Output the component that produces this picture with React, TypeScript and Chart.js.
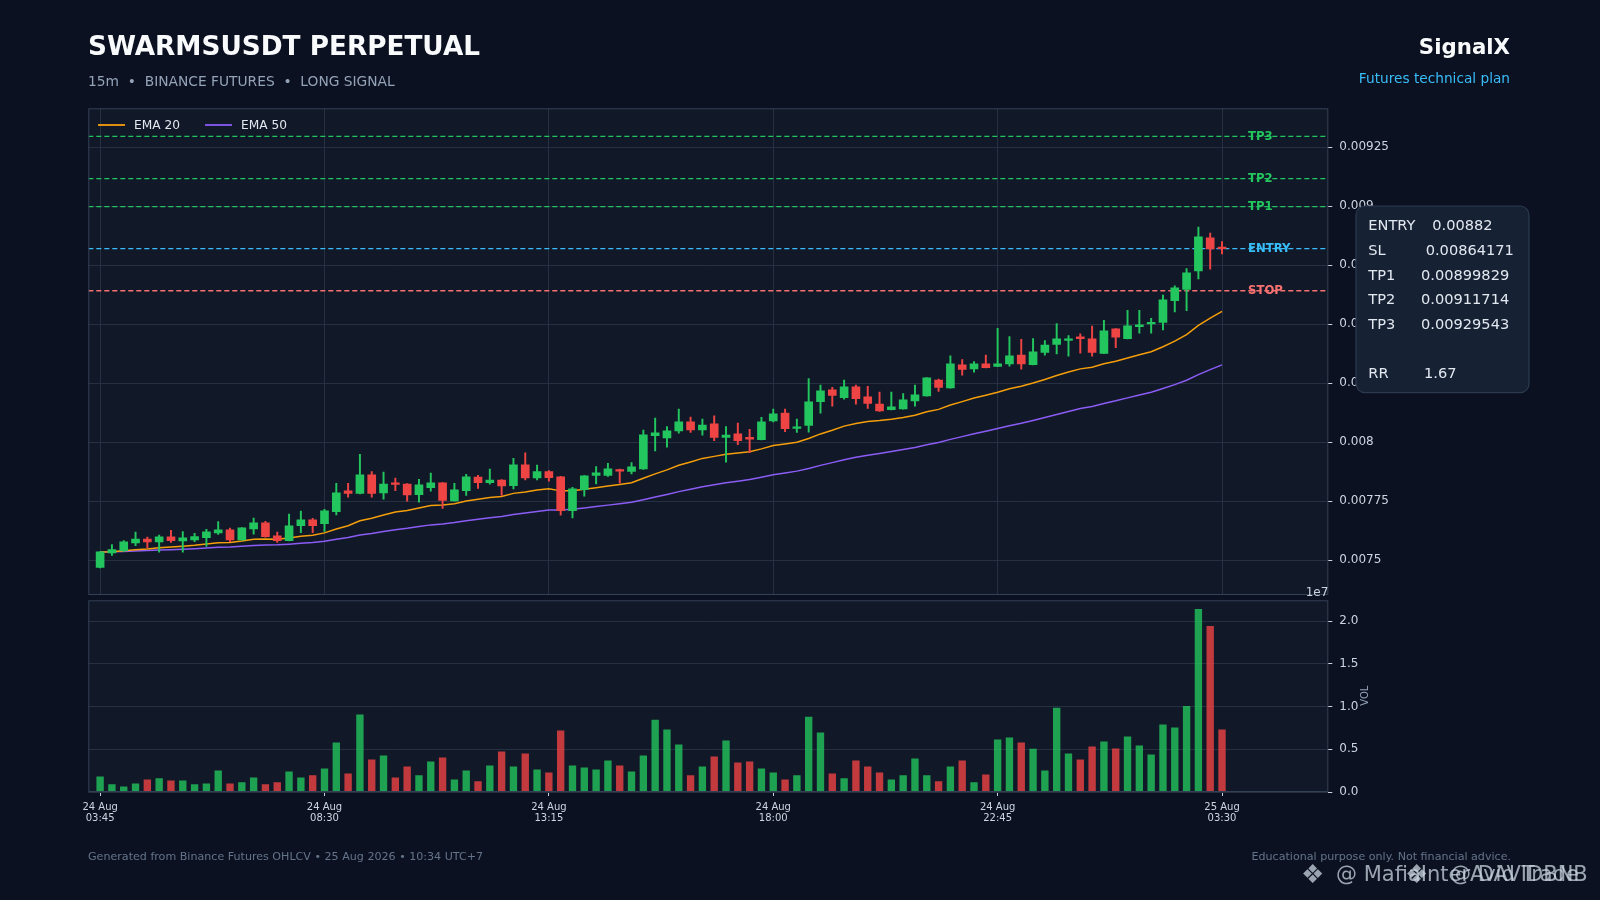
import React, { useEffect, useRef } from 'react';
import { Chart, registerables } from 'chart.js';

Chart.register(...registerables);

// ---------------- DATA ----------------
const OPEN = [
  0.007469, 0.007531, 0.007540, 0.007573, 0.007590, 0.007578, 0.007599, 0.007582, 0.007586, 0.007595,
  0.007616, 0.007629, 0.007586, 0.007633, 0.007658, 0.007603, 0.007583, 0.007646, 0.007671, 0.007655,
  0.007706, 0.007794, 0.007783, 0.007862, 0.007785, 0.007828, 0.007823, 0.007778, 0.007807, 0.007828,
  0.007751, 0.007795, 0.007852, 0.007829, 0.007840, 0.007816, 0.007904, 0.007849, 0.007876, 0.007853,
  0.007710, 0.007799, 0.007859, 0.007859, 0.007884, 0.007876, 0.007887, 0.008028, 0.008018, 0.008048,
  0.008086, 0.008052, 0.008078, 0.008020, 0.008035, 0.008021, 0.008011, 0.008090, 0.008123, 0.008058,
  0.008071, 0.008172, 0.008222, 0.008189, 0.008235, 0.008192, 0.008162, 0.008138, 0.008141, 0.008175,
  0.008196, 0.008263, 0.008230, 0.008328, 0.008311, 0.008332, 0.008321, 0.008332, 0.008369, 0.008328,
  0.008380, 0.008414, 0.008431, 0.008446, 0.008438, 0.008376, 0.008480, 0.008439, 0.008490, 0.008501,
  0.008507, 0.008600, 0.008647, 0.008726, 0.008866, 0.008823,
];
const HIGH = [
  0.007537, 0.007566, 0.007583, 0.007619, 0.007598, 0.007606, 0.007627, 0.007621, 0.007614, 0.007631,
  0.007664, 0.007636, 0.007638, 0.007678, 0.007665, 0.007619, 0.007695, 0.007708, 0.007677, 0.007716,
  0.007826, 0.007826, 0.007949, 0.007876, 0.007873, 0.007848, 0.007825, 0.007843, 0.007869, 0.007829,
  0.007826, 0.007864, 0.007860, 0.007886, 0.007842, 0.007932, 0.007955, 0.007903, 0.007880, 0.007855,
  0.007809, 0.007859, 0.007897, 0.007910, 0.007886, 0.007914, 0.008051, 0.008102, 0.008066, 0.008140,
  0.008106, 0.008098, 0.008112, 0.008066, 0.008081, 0.008055, 0.008105, 0.008140, 0.008140, 0.008098,
  0.008270, 0.008242, 0.008232, 0.008263, 0.008242, 0.008237, 0.008212, 0.008212, 0.008206, 0.008242,
  0.008274, 0.008267, 0.008366, 0.008350, 0.008342, 0.008369, 0.008482, 0.008448, 0.008436, 0.008439,
  0.008431, 0.008503, 0.008452, 0.008459, 0.008492, 0.008516, 0.008481, 0.008559, 0.008559, 0.008525,
  0.008623, 0.008662, 0.008736, 0.008911, 0.008886, 0.008850,
];
const LOW = [
  0.007467, 0.007520, 0.007537, 0.007562, 0.007552, 0.007534, 0.007575, 0.007534, 0.007579, 0.007558,
  0.007609, 0.007579, 0.007585, 0.007610, 0.007598, 0.007575, 0.007582, 0.007617, 0.007617, 0.007622,
  0.007692, 0.007767, 0.007781, 0.007767, 0.007759, 0.007795, 0.007750, 0.007746, 0.007792, 0.007719,
  0.007750, 0.007775, 0.007804, 0.007822, 0.007775, 0.007802, 0.007840, 0.007840, 0.007835, 0.007691,
  0.007679, 0.007771, 0.007823, 0.007855, 0.007826, 0.007866, 0.007885, 0.007963, 0.007979, 0.008038,
  0.008041, 0.008030, 0.008006, 0.007915, 0.007990, 0.007956, 0.008010, 0.008086, 0.008045, 0.008041,
  0.008042, 0.008123, 0.008153, 0.008182, 0.008161, 0.008143, 0.008130, 0.008137, 0.008140, 0.008153,
  0.008195, 0.008215, 0.008229, 0.008284, 0.008297, 0.008315, 0.008320, 0.008322, 0.008309, 0.008327,
  0.008369, 0.008374, 0.008364, 0.008377, 0.008364, 0.008375, 0.008400, 0.008438, 0.008462, 0.008462,
  0.008476, 0.008552, 0.008557, 0.008692, 0.008733, 0.008798,
];
const CLOSE = [
  0.007535, 0.007545, 0.007578, 0.007590, 0.007578, 0.007599, 0.007583, 0.007595, 0.007600, 0.007620,
  0.007629, 0.007586, 0.007637, 0.007658, 0.007600, 0.007583, 0.007646, 0.007671, 0.007646, 0.007709,
  0.007785, 0.007783, 0.007862, 0.007783, 0.007823, 0.007821, 0.007777, 0.007819, 0.007828, 0.007753,
  0.007798, 0.007853, 0.007829, 0.007840, 0.007815, 0.007904, 0.007849, 0.007876, 0.007850, 0.007710,
  0.007802, 0.007857, 0.007870, 0.007887, 0.007877, 0.007896, 0.008031, 0.008040, 0.008048, 0.008086,
  0.008052, 0.008073, 0.008020, 0.008030, 0.008007, 0.008013, 0.008086, 0.008120, 0.008057, 0.008065,
  0.008171, 0.008218, 0.008198, 0.008235, 0.008184, 0.008164, 0.008133, 0.008150, 0.008179, 0.008201,
  0.008273, 0.008232, 0.008332, 0.008308, 0.008332, 0.008316, 0.008332, 0.008366, 0.008332, 0.008383,
  0.008412, 0.008438, 0.008438, 0.008439, 0.008380, 0.008472, 0.008445, 0.008493, 0.008497, 0.008506,
  0.008603, 0.008654, 0.008718, 0.008870, 0.008819, 0.008820,
];
const VOLUME = [
  1790000, 860000, 620000, 970000, 1440000, 1560000, 1320000, 1320000, 860000, 970000,
  2490000, 970000, 1090000, 1670000, 860000, 1090000, 2370000, 1670000, 1910000, 2720000,
  5760000, 2140000, 9030000, 3770000, 4240000, 1670000, 2960000, 1910000, 3540000, 4010000,
  1440000, 2490000, 1210000, 3070000, 4710000, 2960000, 4470000, 2610000, 2260000, 7160000,
  3070000, 2840000, 2610000, 3660000, 3070000, 2370000, 4240000, 8440000, 7280000, 5530000,
  1910000, 2960000, 4120000, 5990000, 3420000, 3540000, 2720000, 2260000, 1440000, 1910000,
  8790000, 6930000, 2140000, 1560000, 3660000, 2960000, 2260000, 1440000, 1910000, 3890000,
  1910000, 1210000, 2960000, 3660000, 1090000, 2020000, 6110000, 6340000, 5760000, 5020000,
  2490000, 9840000, 4470000, 3770000, 5290000, 5880000, 5060000, 6460000, 5410000, 4360000,
  7860000, 7510000, 10040000, 21400000, 19420000, 7280000,
];
const EMA20 = [
  0.0075350, 0.0075360, 0.0075400, 0.0075447, 0.0075479, 0.0075528, 0.0075556, 0.0075594, 0.0075633, 0.0075687,
  0.0075744, 0.0075755, 0.0075814, 0.0075887, 0.0075898, 0.0075891, 0.0075945, 0.0076018, 0.0076060, 0.0076158,
  0.0076319, 0.0076463, 0.0076669, 0.0076779, 0.0076918, 0.0077041, 0.0077110, 0.0077213, 0.0077315, 0.0077335,
  0.0077396, 0.0077504, 0.0077579, 0.0077657, 0.0077704, 0.0077832, 0.0077894, 0.0077977, 0.0078027, 0.0077938,
  0.0077946, 0.0078006, 0.0078072, 0.0078148, 0.0078207, 0.0078279, 0.0078472, 0.0078656, 0.0078829, 0.0079023,
  0.0079165, 0.0079314, 0.0079399, 0.0079485, 0.0079540, 0.0079597, 0.0079717, 0.0079858, 0.0079926, 0.0079995,
  0.0080158, 0.0080351, 0.0080506, 0.0080682, 0.0080792, 0.0080873, 0.0080916, 0.0080972, 0.0081050, 0.0081141,
  0.0081293, 0.0081390, 0.0081574, 0.0081718, 0.0081870, 0.0081993, 0.0082119, 0.0082266, 0.0082367, 0.0082506,
  0.0082660, 0.0082823, 0.0082972, 0.0083107, 0.0083173, 0.0083320, 0.0083428, 0.0083571, 0.0083704, 0.0083833,
  0.0084042, 0.0084280, 0.0084557, 0.0084951, 0.0085260, 0.0085540,
];
const EMA50 = [
  0.0075350, 0.0075354, 0.0075371, 0.0075391, 0.0075407, 0.0075430, 0.0075445, 0.0075465, 0.0075486, 0.0075514,
  0.0075544, 0.0075557, 0.0075589, 0.0075628, 0.0075642, 0.0075650, 0.0075681, 0.0075722, 0.0075751, 0.0075803,
  0.0075884, 0.0075960, 0.0076064, 0.0076133, 0.0076216, 0.0076294, 0.0076352, 0.0076424, 0.0076497, 0.0076537,
  0.0076594, 0.0076670, 0.0076733, 0.0076799, 0.0076852, 0.0076937, 0.0076998, 0.0077067, 0.0077124, 0.0077123,
  0.0077158, 0.0077213, 0.0077272, 0.0077334, 0.0077391, 0.0077452, 0.0077564, 0.0077675, 0.0077785, 0.0077906,
  0.0078008, 0.0078115, 0.0078197, 0.0078279, 0.0078350, 0.0078419, 0.0078515, 0.0078620, 0.0078697, 0.0078774,
  0.0078889, 0.0079018, 0.0079134, 0.0079260, 0.0079361, 0.0079451, 0.0079524, 0.0079602, 0.0079688, 0.0079779,
  0.0079895, 0.0079990, 0.0080120, 0.0080236, 0.0080357, 0.0080467, 0.0080579, 0.0080700, 0.0080803, 0.0080921,
  0.0081047, 0.0081177, 0.0081303, 0.0081424, 0.0081517, 0.0081643, 0.0081753, 0.0081878, 0.0081999, 0.0082119,
  0.0082272, 0.0082440, 0.0082626, 0.0082864, 0.0083073, 0.0083274,
];

const X_TICK_INDEX = [0, 19, 38, 57, 76, 95];
const X_TICK_LABELS = [
  ['24 Aug', '03:45'],
  ['24 Aug', '08:30'],
  ['24 Aug', '13:15'],
  ['24 Aug', '18:00'],
  ['24 Aug', '22:45'],
  ['25 Aug', '03:30'],
];
const PRICE_TICKS = [0.0075, 0.00775, 0.008, 0.00825, 0.0085, 0.00875, 0.009, 0.00925];
const PRICE_TICK_LABELS = ['0.0075', '0.00775', '0.008', '0.00825', '0.0085', '0.00875', '0.009', '0.00925'];
const VOL_TICKS = [0, 5000000, 10000000, 15000000, 20000000];
const VOL_TICK_LABELS = ['0.0', '0.5', '1.0', '1.5', '2.0'];

const LEVEL_NAMES = ['TP3', 'TP2', 'TP1', 'ENTRY', 'STOP'];
const LEVEL_VALUES = [0.00929543, 0.00911714, 0.00899829, 0.00882, 0.00864171];

const INFO_LABELS = ['ENTRY', 'SL', 'TP1', 'TP2', 'TP3', 'RR'];
const INFO_VALUES = ['0.00882', '0.00864171', '0.00899829', '0.00911714', '0.00929543', '1.67'];

const TITLE = 'SWARMSUSDT PERPETUAL';
const SUBTITLE = '15m  \u2022  BINANCE FUTURES  \u2022  LONG SIGNAL';
const BRAND = 'SignalX';
const BRAND_SUB = 'Futures technical plan';
const FOOT_LEFT = 'Generated from Binance Futures OHLCV \u2022 25 Aug 2026 \u2022 10:34 UTC+7';
const FOOT_RIGHT = 'Educational purpose only. Not financial advice.';
const WATERMARK_A = '@ MafiaInterAvid Trade';
const WATERMARK_B = '@ DAVIDBNB';

const X_MIN = -1;
const X_MAX = 104;
const PRICE_MIN = 0.0073526;
const PRICE_MAX = 0.0094147;
const VOL_MAX = 22460000;

// ---------------- STYLE ----------------
const FONT = '"DejaVu Sans", "Noto Sans", sans-serif';
const BG = '#0b1120';
const PLOT_BG = '#111827';
const GRID = '#263042';
const SPINE = '#334155';
const TICK_TEXT = '#cbd5e1';
const GREEN = '#22c55e';
const RED = '#ef4444';
const GREEN_VOL = 'rgba(34,197,94,0.8)';
const RED_VOL = 'rgba(239,68,68,0.8)';
const EMA20_COLOR = '#f59e0b';
const EMA50_COLOR = '#8b5cf6';
const LEVEL_COLORS = ['#22c55e', '#22c55e', '#22c55e', '#38bdf8', '#f87171'];

Chart.defaults.font.family = FONT;

const IDX = CLOSE.map((_, i) => i);
const IS_UP = IDX.map((i) => CLOSE[i] >= OPEN[i]);

function roundRectPath(ctx: CanvasRenderingContext2D, x: number, y: number, w: number, h: number, r: number) {
  ctx.beginPath();
  ctx.moveTo(x + r, y);
  ctx.lineTo(x + w - r, y);
  ctx.arcTo(x + w, y, x + w, y + r, r);
  ctx.lineTo(x + w, y + h - r);
  ctx.arcTo(x + w, y + h, x + w - r, y + h, r);
  ctx.lineTo(x + r, y + h);
  ctx.arcTo(x, y + h, x, y + h - r, r);
  ctx.lineTo(x, y + r);
  ctx.arcTo(x, y, x + r, y, r);
  ctx.closePath();
}

const pricePlugin = {
  id: 'pricePlugin',
  beforeDraw(chart: any) {
    const { ctx, chartArea: a } = chart;
    ctx.save();
    ctx.fillStyle = PLOT_BG;
    ctx.fillRect(a.left, a.top, a.right - a.left, a.bottom - a.top);
    ctx.restore();
  },
  beforeDatasetsDraw(chart: any) {
    const { ctx } = chart;
    const xs = chart.scales.x;
    const ys = chart.scales.y;
    ctx.save();
    ctx.font = `bold 11.7px ${FONT}`;
    ctx.textAlign = 'left';
    ctx.textBaseline = 'middle';
    LEVEL_VALUES.forEach((v, i) => {
      ctx.fillStyle = LEVEL_COLORS[i];
      ctx.fillText(LEVEL_NAMES[i], xs.getPixelForValue(97.2), ys.getPixelForValue(v) + 0.5);
    });
    ctx.restore();
  },
  afterDraw(chart: any) {
    const { ctx, chartArea: a } = chart;
    ctx.save();
    // spine
    ctx.strokeStyle = SPINE;
    ctx.lineWidth = 1;
    ctx.strokeRect(a.left + 0.5, a.top + 0.5, a.right - a.left - 1, a.bottom - a.top - 1);

    // legend
    ctx.lineWidth = 1.8;
    ctx.strokeStyle = EMA20_COLOR;
    ctx.beginPath(); ctx.moveTo(98, 125); ctx.lineTo(125, 125); ctx.stroke();
    ctx.strokeStyle = EMA50_COLOR;
    ctx.beginPath(); ctx.moveTo(205, 125); ctx.lineTo(232, 125); ctx.stroke();
    ctx.fillStyle = '#e2e8f0';
    ctx.font = `12.2px ${FONT}`;
    ctx.textBaseline = 'alphabetic';
    ctx.textAlign = 'left';
    ctx.fillText('EMA 20', 134, 129.3);
    ctx.fillText('EMA 50', 241, 129.3);

    // titles
    ctx.fillStyle = '#f8fafc';
    ctx.font = `bold 26.3px ${FONT}`;
    ctx.fillText(TITLE, 88, 55);
    ctx.fillStyle = '#94a3b8';
    ctx.font = `13.8px ${FONT}`;
    ctx.fillText(SUBTITLE, 88, 86);
    ctx.textAlign = 'right';
    ctx.fillStyle = '#f8fafc';
    ctx.font = `bold 21.3px ${FONT}`;
    ctx.fillText(BRAND, 1510, 53.5);
    ctx.fillStyle = '#38bdf8';
    ctx.font = `13.7px ${FONT}`;
    ctx.fillText(BRAND_SUB, 1510, 83.3);

    // info box
    roundRectPath(ctx, 1356, 206, 173, 186.7, 9);
    ctx.fillStyle = '#162134';
    ctx.fill();
    ctx.strokeStyle = '#2c3a50';
    ctx.lineWidth = 1.2;
    ctx.stroke();
    ctx.fillStyle = '#e2e8f0';
    ctx.font = `14.6px ${FONT}`;
    ctx.textAlign = 'left';
    const baselines = [230, 255, 280, 304.3, 329.3, 378.3];
    const valueX = [1432.3, 1425.7, 1421, 1421, 1421, 1424];
    INFO_LABELS.forEach((lab, i) => {
      ctx.fillText(lab, 1368.3, baselines[i]);
      ctx.fillText(INFO_VALUES[i], valueX[i], baselines[i]);
    });

    // footer
    ctx.fillStyle = '#64748b';
    ctx.font = `11.1px ${FONT}`;
    ctx.textAlign = 'left';
    ctx.fillText(FOOT_LEFT, 88, 860);
    ctx.textAlign = 'right';
    ctx.fillText(FOOT_RIGHT, 1511, 860);

    // watermark
    ctx.textAlign = 'left';
    ctx.fillStyle = 'rgba(203,213,225,0.75)';
    ctx.font = `26px ${FONT}`;
    ctx.fillText('\u2756', 1301, 883);
    ctx.fillText('\u2756', 1405, 883);
    ctx.font = `21px ${FONT}`;
    ctx.fillText(WATERMARK_A, 1336, 881);
    ctx.fillText(WATERMARK_B, 1450, 881);
    ctx.restore();
  },
};

const volumePlugin = {
  id: 'volumePlugin',
  beforeDraw(chart: any) {
    const { ctx, chartArea: a } = chart;
    ctx.save();
    ctx.fillStyle = PLOT_BG;
    ctx.fillRect(a.left, a.top, a.right - a.left, a.bottom - a.top);
    ctx.restore();
  },
  afterDraw(chart: any) {
    const { ctx, chartArea: a } = chart;
    ctx.save();
    ctx.strokeStyle = SPINE;
    ctx.lineWidth = 1;
    ctx.strokeRect(a.left + 0.5, a.top + 0.5, a.right - a.left - 1, a.bottom - a.top - 1);
    ctx.fillStyle = TICK_TEXT;
    ctx.font = `12px ${FONT}`;
    ctx.textAlign = 'right';
    ctx.textBaseline = 'alphabetic';
    ctx.fillText('1e7', a.right, a.top - 4);
    ctx.translate(1368, (a.top + a.bottom) / 2 - 0.5);
    ctx.rotate(-Math.PI / 2);
    ctx.fillStyle = '#94a3b8';
    ctx.font = `10px ${FONT}`;
    ctx.textAlign = 'center';
    ctx.fillText('VOL', 0, 0);
    ctx.restore();
  },
};

function buildPriceConfig(): any {
  const colors = IS_UP.map((u) => (u ? GREEN : RED));
  const levelDatasets = LEVEL_VALUES.map((v, i) => ({
    type: 'line',
    data: [{ x: X_MIN, y: v }, { x: X_MAX, y: v }],
    borderColor: LEVEL_COLORS[i],
    borderWidth: 1.3,
    borderDash: [5, 3],
    pointRadius: 0,
    order: 5,
  }));
  return {
    type: 'bar',
    data: {
      datasets: [
        {
          type: 'bar',
          data: IDX.map((i) => ({ x: i, y: [OPEN[i], CLOSE[i]] })),
          backgroundColor: colors,
          borderWidth: 0,
          barThickness: 8,
          minBarLength: 1.5,
          grouped: false,
          order: 1,
        },
        {
          type: 'bar',
          data: IDX.map((i) => ({ x: i, y: [LOW[i], HIGH[i]] })),
          backgroundColor: colors,
          borderWidth: 0,
          barThickness: 1.3,
          grouped: false,
          order: 2,
        },
        {
          type: 'line',
          data: IDX.map((i) => ({ x: i, y: EMA20[i] })),
          borderColor: EMA20_COLOR,
          borderWidth: 1.5,
          pointRadius: 0,
          order: 3,
        },
        {
          type: 'line',
          data: IDX.map((i) => ({ x: i, y: EMA50[i] })),
          borderColor: EMA50_COLOR,
          borderWidth: 1.5,
          pointRadius: 0,
          order: 4,
        },
        ...levelDatasets,
      ],
    },
    options: {
      animation: false,
      responsive: false,
      events: [],
      layout: { padding: { left: 88.3, top: 108.3, right: 0, bottom: 305 } },
      plugins: { legend: { display: false }, tooltip: { enabled: false } },
      scales: {
        x: {
          type: 'linear',
          min: X_MIN,
          max: X_MAX,
          offset: false,
          afterBuildTicks: (s: any) => { s.ticks = X_TICK_INDEX.map((v) => ({ value: v })); },
          ticks: { display: false },
          grid: { color: GRID, lineWidth: 1, drawTicks: false, offset: false },
          border: { display: false },
          afterFit: (s: any) => { s.height = 0; },
        },
        y: {
          type: 'linear',
          position: 'right',
          min: PRICE_MIN,
          max: PRICE_MAX,
          beginAtZero: false,
          afterBuildTicks: (s: any) => { s.ticks = PRICE_TICKS.map((v) => ({ value: v })); },
          ticks: {
            callback: (_v: any, i: number) => PRICE_TICK_LABELS[i],
            color: TICK_TEXT,
            font: { family: FONT, size: 12 },
            padding: 7,
          },
          grid: { color: GRID, lineWidth: 1, tickLength: 4, tickColor: TICK_TEXT },
          border: { display: false },
          afterFit: (s: any) => { s.width = 271.7; },
        },
      },
    },
    plugins: [pricePlugin],
  };
}

function buildVolumeConfig(): any {
  const colors = IS_UP.map((u) => (u ? GREEN_VOL : RED_VOL));
  return {
    type: 'bar',
    data: {
      datasets: [
        {
          type: 'bar',
          data: IDX.map((i) => ({ x: i, y: VOLUME[i] })),
          backgroundColor: colors,
          borderWidth: 0,
          barThickness: 6.7,
          grouped: false,
        },
      ],
    },
    options: {
      animation: false,
      responsive: false,
      events: [],
      layout: { padding: { left: 88.3, top: 600.3, right: 0, bottom: 78 } },
      plugins: { legend: { display: false }, tooltip: { enabled: false } },
      scales: {
        x: {
          type: 'linear',
          min: X_MIN,
          max: X_MAX,
          offset: false,
          afterBuildTicks: (s: any) => { s.ticks = X_TICK_INDEX.map((v) => ({ value: v })); },
          ticks: {
            callback: (_v: any, i: number) => X_TICK_LABELS[i],
            color: TICK_TEXT,
            font: { family: FONT, size: 10, lineHeight: 1.1 },
            padding: 6,
            maxRotation: 0,
            autoSkip: false,
          },
          grid: { drawOnChartArea: false, drawTicks: true, tickLength: 4, tickColor: TICK_TEXT, offset: false },
          border: { display: false },
          afterFit: (s: any) => { s.height = 30; },
        },
        y: {
          type: 'linear',
          position: 'right',
          min: 0,
          max: VOL_MAX,
          afterBuildTicks: (s: any) => { s.ticks = VOL_TICKS.map((v) => ({ value: v })); },
          ticks: {
            callback: (_v: any, i: number) => VOL_TICK_LABELS[i],
            color: TICK_TEXT,
            font: { family: FONT, size: 12 },
            padding: 7,
          },
          grid: { color: GRID, lineWidth: 1, tickLength: 4, tickColor: TICK_TEXT },
          border: { display: false },
          afterFit: (s: any) => { s.width = 271.7; },
        },
      },
    },
    plugins: [volumePlugin],
  };
}

export default function App() {
  const priceRef = useRef<HTMLCanvasElement>(null);
  const volRef = useRef<HTMLCanvasElement>(null);

  useEffect(() => {
    document.body.style.margin = '0';
    document.body.style.background = BG;
    const pc = new Chart(priceRef.current as HTMLCanvasElement, buildPriceConfig());
    const vc = new Chart(volRef.current as HTMLCanvasElement, buildVolumeConfig());
    return () => {
      pc.destroy();
      vc.destroy();
    };
  }, []);

  return (
    <div style={{ position: 'relative', width: 1600, height: 900, background: BG, overflow: 'hidden' }}>
      <canvas ref={priceRef} width={1600} height={900} style={{ position: 'absolute', left: 0, top: 0 }} />
      <canvas ref={volRef} width={1600} height={900} style={{ position: 'absolute', left: 0, top: 0 }} />
    </div>
  );
}
